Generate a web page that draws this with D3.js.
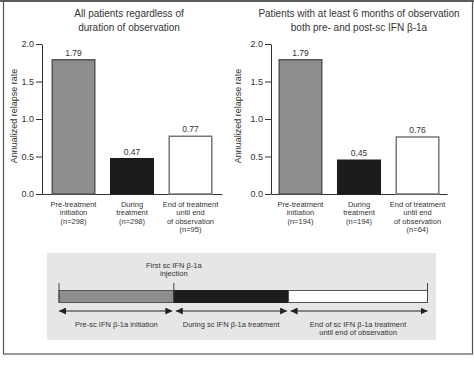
<!DOCTYPE html>
<html>
<head>
<meta charset="utf-8">
<script src="https://cdn.jsdelivr.net/npm/d3@7"></script>
<style>
  html, body { margin: 0; padding: 0; background: #fff; }
  svg { display: block; font-family: "Liberation Sans", Arial, Helvetica, sans-serif; }
</style>
</head>
<body>
<div id="chart"></div>
<script>
// ---- data ----
const categories = ["Pre-treatment initiation", "During treatment", "End of treatment until end of observation"];
const categoryLines = [["Pre-treatment", "initiation"], ["During", "treatment"], ["End of treatment", "until end", "of observation"]];
const leftValues = [1.79, 0.47, 0.77];
const leftN = [298, 298, 95];
const rightValues = [1.79, 0.45, 0.76];
const rightN = [194, 194, 64];
const leftTitle = ["All patients regardless of", "duration of observation"];
const rightTitle = ["Patients with at least 6 months of observation", "both pre- and post-sc IFN β-1a"];
const yTicks = [0, 0.5, 1.0, 1.5, 2.0];
const yLabel = "Annualized relapse rate";
const barColors = ["#8e8e8e", "#1c1c1c", "#ffffff"];
const barStrokes = ["#555555", "#1c1c1c", "#777777"];
// timeline phases (relative durations)
const phaseNames = ["Pre-sc IFN β-1a initiation", "During sc IFN β-1a treatment", "End of sc IFN β-1a treatment"];
const phaseLabelLines = [["Pre-sc IFN β-1a initiation"], ["During sc IFN β-1a treatment"], ["End of sc IFN β-1a treatment", "until end of observation"]];
const phaseDurations = [1, 1, 1.21];
const injectionLabel = ["First sc IFN β-1a", "injection"];

// ---- drawing ----
const W = 474, H = 367;
const svg = d3.select("#chart").append("svg").attr("width", W).attr("height", H);
const textColor = "#333";

// outer frame
svg.append("line").attr("x1", 0).attr("x2", W).attr("y1", 1).attr("y2", 1)
  .attr("stroke", "#666").attr("stroke-width", 2);
svg.append("rect").attr("x", 3.5).attr("y", 1).attr("width", 469).attr("height", 353)
  .attr("fill", "none").attr("stroke", "#555").attr("stroke-width", 1.2);

const y = d3.scaleLinear().domain([0, 2]).range([194, 44]);

function panel(cfg) {
  const g = svg.append("g");
  const x = d3.scaleBand().domain(categories).range(cfg.xRange)
    .paddingInner(0.273).paddingOuter(cfg.outer);

  // title
  cfg.title.forEach((t, i) => {
    g.append("text").attr("x", cfg.titleX).attr("y", 17 + i * 13.5)
      .attr("text-anchor", "middle").attr("font-size", 10).attr("fill", textColor).text(t);
  });

  // y axis
  const ya = g.append("g").attr("transform", `translate(${cfg.xRange[0]},0)`)
    .call(d3.axisLeft(y).tickValues(yTicks).tickFormat(d3.format(".1f")).tickSize(6).tickSizeOuter(0).tickPadding(2));
  ya.selectAll("path,line").attr("stroke", "#333");
  ya.selectAll("text").attr("font-size", 9).attr("fill", textColor).attr("font-family", null);

  // x axis line
  const xa = g.append("g").attr("transform", `translate(0,${y(0)})`)
    .call(d3.axisBottom(x).tickSize(0).tickSizeOuter(0).tickFormat(""));
  xa.selectAll("path").attr("stroke", "#333");

  // y label
  g.append("text").attr("transform", `translate(${cfg.yLabelX},${(y(0) + y(2)) / 2 - 3}) rotate(-90)`)
    .attr("text-anchor", "middle").attr("font-size", 9).attr("fill", textColor).text(yLabel);

  // bars
  g.selectAll("rect.bar").data(cfg.values).join("rect").attr("class", "bar")
    .attr("x", (d, i) => x(categories[i]))
    .attr("width", x.bandwidth())
    .attr("y", d => y(d))
    .attr("height", d => y(0) - y(d))
    .attr("fill", (d, i) => barColors[i])
    .attr("stroke", (d, i) => barStrokes[i])
    .attr("stroke-width", 1.5);

  // value labels
  g.selectAll("text.val").data(cfg.values).join("text").attr("class", "val")
    .attr("x", (d, i) => x(categories[i]) + x.bandwidth() / 2)
    .attr("y", d => y(d) - 4)
    .attr("text-anchor", "middle").attr("font-size", 8.5).attr("fill", textColor)
    .text(d => d3.format(".2f")(d));

  // category labels
  categories.forEach((c, i) => {
    const lines = categoryLines[i].concat([`(n=${cfg.n[i]})`]);
    lines.forEach((l, j) => {
      g.append("text").attr("x", x(c) + x.bandwidth() / 2).attr("y", 206.5 + j * 8.5)
        .attr("text-anchor", "middle").attr("font-size", 7.5).attr("fill", textColor).text(l);
    });
  });
}

panel({ xRange: [42, 222], outer: 0.175, values: leftValues, n: leftN, title: leftTitle, titleX: 129, yLabelX: 17 });
panel({ xRange: [271, 447], outer: 0.14, values: rightValues, n: rightN, title: rightTitle, titleX: 359, yLabelX: 241 });

// ---- timeline ----
svg.append("rect").attr("x", 47).attr("y", 253).attr("width", 389).attr("height", 87).attr("fill", "#e6e6e6");

const bounds = [0];
phaseDurations.forEach(d => bounds.push(bounds[bounds.length - 1] + d));
const tx = d3.scaleLinear().domain([0, bounds[bounds.length - 1]]).range([59, 427.5]);
const phaseFill = ["#8e8e8e", "#1c1c1c", "#ffffff"];

const defs = svg.append("defs");
defs.append("marker").attr("id", "ah").attr("viewBox", "0 0 10 10").attr("refX", 10).attr("refY", 5)
  .attr("markerWidth", 7).attr("markerHeight", 7).attr("markerUnits", "userSpaceOnUse")
  .attr("orient", "auto-start-reverse")
  .append("path").attr("d", "M0,0 L10,5 L0,10 Z").attr("fill", "#222");

phaseNames.forEach((p, i) => {
  svg.append("rect").attr("x", tx(bounds[i])).attr("y", 290.5)
    .attr("width", tx(bounds[i + 1]) - tx(bounds[i])).attr("height", 12)
    .attr("fill", phaseFill[i]).attr("stroke", i === 1 ? "#1c1c1c" : "#555").attr("stroke-width", 1);
  const x0 = tx(bounds[i]) + (i === 0 ? 0 : 2);
  const x1 = tx(bounds[i + 1]) - (i === 2 ? 0 : 1.5);
  svg.append("line").attr("x1", x0).attr("x2", x1).attr("y1", 311).attr("y2", 311)
    .attr("stroke", "#222").attr("stroke-width", 1)
    .attr("marker-start", "url(#ah)").attr("marker-end", "url(#ah)");
  const cx = (tx(bounds[i]) + tx(bounds[i + 1])) / 2;
  phaseLabelLines[i].forEach((l, j) => {
    svg.append("text").attr("x", cx).attr("y", 327 + j * 8.3)
      .attr("text-anchor", "middle").attr("font-size", 7.5).attr("fill", textColor).text(l);
  });
});

// vertical boundary ticks
[bounds[0], bounds[1], bounds[3]].forEach(b => {
  svg.append("line").attr("x1", tx(b)).attr("x2", tx(b)).attr("y1", 283).attr("y2", 302.5)
    .attr("stroke", "#444").attr("stroke-width", 1);
});

injectionLabel.forEach((l, j) => {
  svg.append("text").attr("x", tx(bounds[1])).attr("y", 268 + j * 8.3)
    .attr("text-anchor", "middle").attr("font-size", 7.5).attr("fill", textColor).text(l);
});
</script>
</body>
</html>
